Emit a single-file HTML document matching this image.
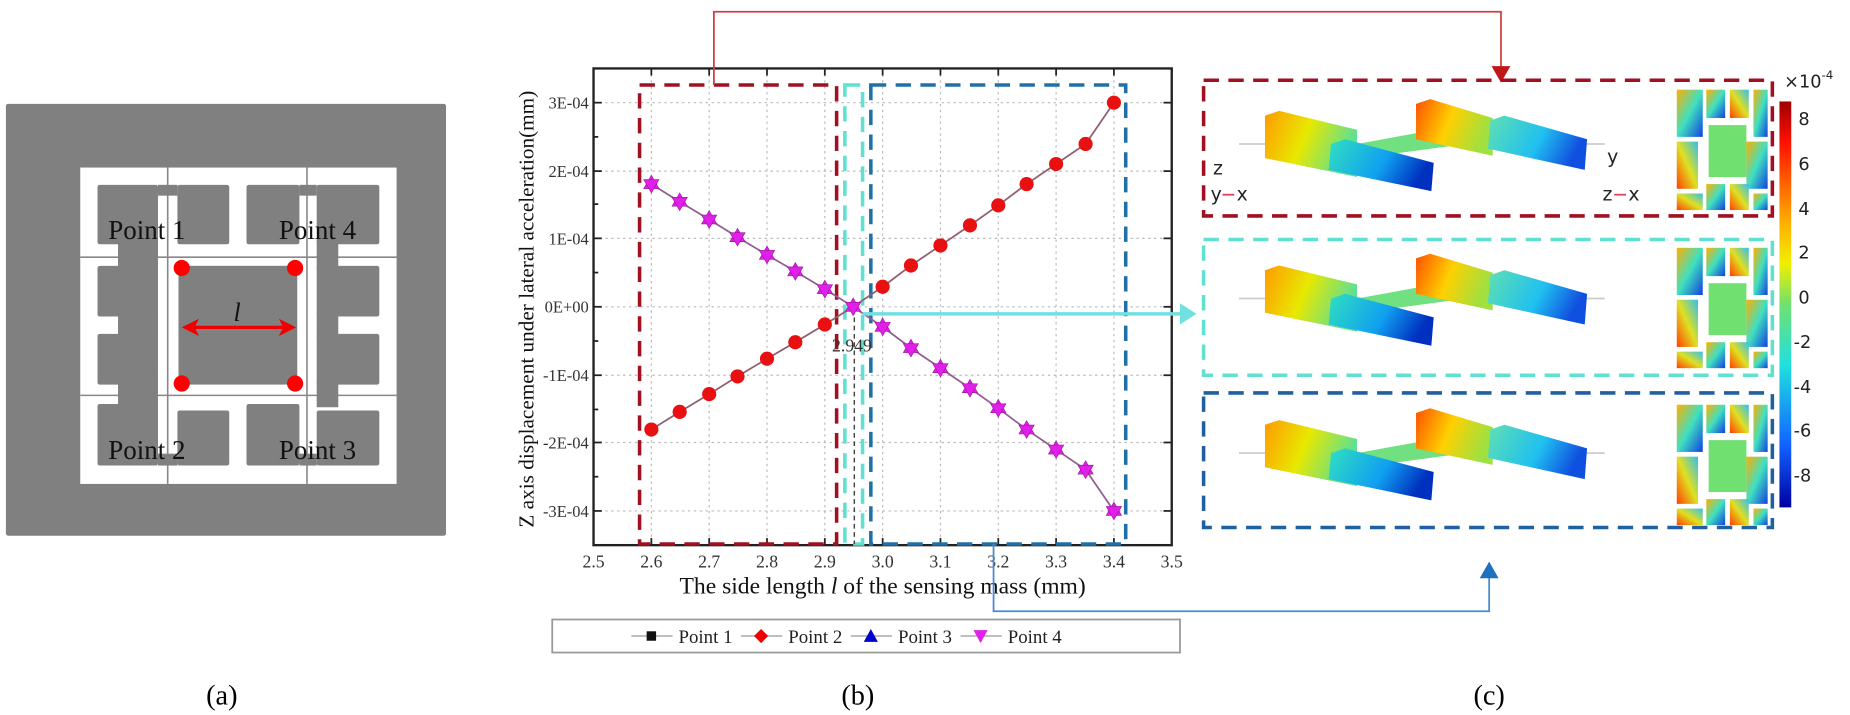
<!DOCTYPE html>
<html><head><meta charset="utf-8"><style>
html,body{margin:0;padding:0;background:#fff;}
svg{display:block;font-family:"Liberation Serif",serif;}
.s{font-family:"DejaVu Sans","Liberation Sans",sans-serif;}
</style></head><body>
<svg width="1850" height="715" viewBox="0 0 1850 715" xmlns="http://www.w3.org/2000/svg">
<defs>
<linearGradient id="jet" x1="0" y1="0" x2="0" y2="1">
<stop offset="0" stop-color="#a00000"/><stop offset="0.1" stop-color="#ff1000"/><stop offset="0.3" stop-color="#ffb000"/><stop offset="0.4" stop-color="#f0f000"/><stop offset="0.5" stop-color="#70e070"/><stop offset="0.65" stop-color="#20e0e0"/><stop offset="0.85" stop-color="#1060ff"/><stop offset="1" stop-color="#0000a0"/>
</linearGradient>
<linearGradient id="gA" x1="0" y1="0" x2="1" y2="0.3"><stop offset="0" stop-color="#ff9a00"/><stop offset="0.5" stop-color="#e8e800"/><stop offset="1" stop-color="#60e090"/></linearGradient>
<linearGradient id="gB" x1="0" y1="0" x2="1" y2="0.3"><stop offset="0" stop-color="#30e0c0"/><stop offset="0.6" stop-color="#10a0f0"/><stop offset="1" stop-color="#0030c0"/></linearGradient>
<linearGradient id="gC" x1="0" y1="0" x2="1" y2="0.3"><stop offset="0" stop-color="#ff5000"/><stop offset="0.5" stop-color="#ffd000"/><stop offset="1" stop-color="#a0e040"/></linearGradient>
<linearGradient id="gD" x1="0" y1="0" x2="1" y2="0.3"><stop offset="0" stop-color="#60e0b0"/><stop offset="0.6" stop-color="#20c0f0"/><stop offset="1" stop-color="#1050e0"/></linearGradient>
<linearGradient id="tb1" x1="0" y1="0" x2="1" y2="1"><stop offset="0" stop-color="#ffb000"/><stop offset="0.5" stop-color="#40e0c0"/><stop offset="1" stop-color="#1040e0"/></linearGradient>
<linearGradient id="tb2" x1="1" y1="0" x2="0" y2="1"><stop offset="0" stop-color="#30c0f0"/><stop offset="0.5" stop-color="#e0e020"/><stop offset="1" stop-color="#ff4000"/></linearGradient>
<g id="beams">
<line x1="1050" y1="122" x2="1360" y2="122" stroke="#ccc" stroke-width="1.5"/>
<polygon points="1150,122 1238,106 1272,118 1168,132" fill="#70e080"/>
<polygon points="1072,98 1084,94 1150,110 1150,150 1072,134" fill="url(#gA)"/>
<polygon points="1128,122 1140,118 1215,138 1213,162 1126,144" fill="url(#gB)"/>
<polygon points="1200,88 1212,84 1265,100 1265,132 1200,118" fill="url(#gC)"/>
<polygon points="1263,102 1275,98 1345,118 1343,144 1261,126" fill="url(#gD)"/>
</g>
<g id="top">
<rect x="1421" y="0" width="22" height="40" fill="url(#tb1)"/>
<rect x="1446" y="0" width="16" height="24" fill="url(#tb1)"/>
<rect x="1466" y="0" width="16" height="24" fill="url(#tb2)"/>
<rect x="1486" y="0" width="12" height="40" fill="url(#tb1)"/>
<rect x="1421" y="44" width="18" height="40" fill="url(#tb2)"/>
<rect x="1480" y="44" width="18" height="40" fill="url(#tb1)"/>
<rect x="1421" y="88" width="22" height="14" fill="url(#tb2)"/>
<rect x="1446" y="80" width="16" height="22" fill="url(#tb1)"/>
<rect x="1466" y="80" width="16" height="22" fill="url(#tb2)"/>
<rect x="1486" y="88" width="12" height="14" fill="url(#tb1)"/>
<rect x="1448" y="30" width="32" height="44" fill="#70e070"/>
</g>
<g id="hx" fill="#e020e8" stroke="#a010a0" stroke-width="0.5"><polygon points="0,-7.5 6.5,3.8 -6.5,3.8"/><polygon points="0,7.5 6.5,-3.8 -6.5,-3.8"/></g>
</defs>
<g transform="scale(1.18)">
<!-- Panel (a) -->
<rect x="5" y="88" width="373" height="366" fill="#808080" rx="2"/>
<g transform="translate(68,142) scale(0.915)">
<rect x="0" y="0" width="293" height="293" fill="#fff"/>
<g stroke="#888" stroke-width="1.5"><line x1="81" y1="0" x2="81" y2="293"/><line x1="210" y1="0" x2="210" y2="293"/><line x1="0" y1="83" x2="293" y2="83"/><line x1="0" y1="211" x2="293" y2="211"/></g>
<g fill="#808080">
<rect x="16" y="16" width="56" height="55" rx="2"/><rect x="90" y="16" width="48" height="55" rx="2"/><rect x="154" y="16" width="49" height="55" rx="2"/><rect x="219" y="16" width="58" height="55" rx="2"/>
<rect x="16" y="91" width="56" height="47" rx="2"/><rect x="16" y="154" width="56" height="47" rx="2"/>
<rect x="219" y="91" width="58" height="47" rx="2"/><rect x="219" y="154" width="58" height="47" rx="2"/>
<rect x="16" y="219" width="56" height="57" rx="2"/><rect x="90" y="225" width="48" height="51" rx="2"/><rect x="154" y="219" width="49" height="57" rx="2"/><rect x="219" y="225" width="58" height="51" rx="2"/>
<rect x="35" y="68" width="37" height="26"/><rect x="35" y="135" width="37" height="22"/><rect x="35" y="198" width="37" height="24"/>
<rect x="219" y="68" width="20" height="26"/><rect x="219" y="135" width="20" height="22"/><rect x="219" y="198" width="20" height="24"/>
<rect x="72" y="16" width="18" height="10"/><rect x="203" y="16" width="16" height="10"/><rect x="72" y="265" width="18" height="11"/><rect x="203" y="265" width="16" height="11"/>
<rect x="91" y="91" width="110" height="110"/>
</g>
<g font-size="25" fill="#111"><text x="26" y="66">Point 1</text><text x="184" y="66">Point 4</text><text x="26" y="270">Point 2</text><text x="184" y="270">Point 3</text></g>
<text x="142" y="142" font-size="24" font-style="italic" fill="#111">l</text>
<line x1="104" y1="148" x2="190" y2="148" stroke="#e00" stroke-width="3"/>
<polygon points="94,148 110,140 106,148 110,156" fill="#e00"/><polygon points="200,148 184,140 188,148 184,156" fill="#e00"/>
<g fill="#f00"><circle cx="94" cy="93" r="7.5"/><circle cx="199" cy="93" r="7.5"/><circle cx="94" cy="200" r="7.5"/><circle cx="199" cy="200" r="7.5"/></g>
</g>
<text x="188" y="597" font-size="24" text-anchor="middle">(a)</text>

<!-- Panel (b) -->
<g stroke="#bbb" stroke-width="1" stroke-dasharray="2,3">
<line x1="552" y1="58" x2="552" y2="462"/><line x1="601" y1="58" x2="601" y2="462"/><line x1="650" y1="58" x2="650" y2="462"/><line x1="699" y1="58" x2="699" y2="462"/><line x1="748" y1="58" x2="748" y2="462"/><line x1="797" y1="58" x2="797" y2="462"/><line x1="846" y1="58" x2="846" y2="462"/><line x1="895" y1="58" x2="895" y2="462"/><line x1="944" y1="58" x2="944" y2="462"/>
<line x1="503" y1="87" x2="993" y2="87"/><line x1="503" y1="145" x2="993" y2="145"/><line x1="503" y1="202" x2="993" y2="202"/><line x1="503" y1="260" x2="993" y2="260"/><line x1="503" y1="318" x2="993" y2="318"/><line x1="503" y1="375" x2="993" y2="375"/><line x1="503" y1="433" x2="993" y2="433"/>
</g>
<rect x="503" y="58" width="490" height="404" fill="none" stroke="#222" stroke-width="2"/>
<g stroke="#222" stroke-width="1.5">
<line x1="552" y1="462" x2="552" y2="456"/><line x1="601" y1="462" x2="601" y2="456"/><line x1="650" y1="462" x2="650" y2="456"/><line x1="699" y1="462" x2="699" y2="456"/><line x1="748" y1="462" x2="748" y2="456"/><line x1="797" y1="462" x2="797" y2="456"/><line x1="846" y1="462" x2="846" y2="456"/><line x1="895" y1="462" x2="895" y2="456"/><line x1="944" y1="462" x2="944" y2="456"/>
<line x1="552" y1="58" x2="552" y2="64"/><line x1="601" y1="58" x2="601" y2="64"/><line x1="650" y1="58" x2="650" y2="64"/><line x1="699" y1="58" x2="699" y2="64"/><line x1="748" y1="58" x2="748" y2="64"/><line x1="797" y1="58" x2="797" y2="64"/><line x1="846" y1="58" x2="846" y2="64"/><line x1="895" y1="58" x2="895" y2="64"/><line x1="944" y1="58" x2="944" y2="64"/>
<line x1="503" y1="87" x2="510" y2="87"/><line x1="503" y1="116" x2="507" y2="116"/><line x1="503" y1="145" x2="510" y2="145"/><line x1="503" y1="173" x2="507" y2="173"/><line x1="503" y1="202" x2="510" y2="202"/><line x1="503" y1="231" x2="507" y2="231"/><line x1="503" y1="260" x2="510" y2="260"/><line x1="503" y1="289" x2="507" y2="289"/><line x1="503" y1="318" x2="510" y2="318"/><line x1="503" y1="347" x2="507" y2="347"/><line x1="503" y1="375" x2="510" y2="375"/><line x1="503" y1="404" x2="507" y2="404"/><line x1="503" y1="433" x2="510" y2="433"/>
<line x1="993" y1="87" x2="986" y2="87"/><line x1="993" y1="145" x2="986" y2="145"/><line x1="993" y1="202" x2="986" y2="202"/><line x1="993" y1="260" x2="986" y2="260"/><line x1="993" y1="318" x2="986" y2="318"/><line x1="993" y1="375" x2="986" y2="375"/><line x1="993" y1="433" x2="986" y2="433"/>
</g>
<g font-size="14" text-anchor="end" fill="#333"><text x="499" y="92">3E-04</text><text x="499" y="150">2E-04</text><text x="499" y="207">1E-04</text><text x="499" y="265">0E+00</text><text x="499" y="323">-1E-04</text><text x="499" y="380">-2E-04</text><text x="499" y="438">-3E-04</text></g>
<g font-size="15" text-anchor="middle" fill="#333"><text x="503" y="481">2.5</text><text x="552" y="481">2.6</text><text x="601" y="481">2.7</text><text x="650" y="481">2.8</text><text x="699" y="481">2.9</text><text x="748" y="481">3.0</text><text x="797" y="481">3.1</text><text x="846" y="481">3.2</text><text x="895" y="481">3.3</text><text x="944" y="481">3.4</text><text x="993" y="481">3.5</text></g>
<text x="748" y="503" font-size="20" text-anchor="middle" fill="#111">The side length <tspan font-style="italic">l</tspan> of the sensing mass (mm)</text>
<text transform="translate(452,262) rotate(-90)" font-size="18" text-anchor="middle" fill="#111">Z axis displacement under lateral acceleration(mm)</text>
<!-- dashed boxes -->
<rect x="542" y="72" width="167" height="389" fill="none" stroke="#a01020" stroke-width="3" stroke-dasharray="13,8"/>
<rect x="716" y="72" width="15" height="389" fill="none" stroke="#60e0d0" stroke-width="3" stroke-dasharray="13,8"/>
<rect x="738" y="72" width="216" height="389" fill="none" stroke="#2070a8" stroke-width="3" stroke-dasharray="13,8"/>
<line x1="724" y1="262" x2="724" y2="461" stroke="#444" stroke-width="1.2" stroke-dasharray="4,3"/>
<text x="722" y="298" font-size="15" text-anchor="middle" fill="#333">2.949</text>
<!-- series -->
<polyline points="552,364 576,349 601,334 625,319 650,304 674,290 699,275 723,260 748,243 772,225 797,208 822,191 846,174 870,156 895,139 920,122 944,87" fill="none" stroke="#906070" stroke-width="1.5"/>
<polyline points="552,156 576,171 601,186 625,201 650,216 674,230 699,245 723,260 748,277 772,295 797,312 822,329 846,346 870,364 895,381 920,398 944,433" fill="none" stroke="#906090" stroke-width="1.5"/>
<g fill="#e81010">
<circle cx="552" cy="364" r="6"/><circle cx="576" cy="349" r="6"/><circle cx="601" cy="334" r="6"/><circle cx="625" cy="319" r="6"/><circle cx="650" cy="304" r="6"/><circle cx="674" cy="290" r="6"/><circle cx="699" cy="275" r="6"/><circle cx="748" cy="243" r="6"/><circle cx="772" cy="225" r="6"/><circle cx="797" cy="208" r="6"/><circle cx="822" cy="191" r="6"/><circle cx="846" cy="174" r="6"/><circle cx="870" cy="156" r="6"/><circle cx="895" cy="139" r="6"/><circle cx="920" cy="122" r="6"/><circle cx="944" cy="87" r="6"/>
</g>
<use href="#hx" x="552" y="156"/><use href="#hx" x="576" y="171"/><use href="#hx" x="601" y="186"/><use href="#hx" x="625" y="201"/><use href="#hx" x="650" y="216"/><use href="#hx" x="674" y="230"/><use href="#hx" x="699" y="245"/><use href="#hx" x="723" y="260"/><use href="#hx" x="748" y="277"/><use href="#hx" x="772" y="295"/><use href="#hx" x="797" y="312"/><use href="#hx" x="822" y="329"/><use href="#hx" x="846" y="346"/><use href="#hx" x="870" y="364"/><use href="#hx" x="895" y="381"/><use href="#hx" x="920" y="398"/><use href="#hx" x="944" y="433"/>
<!-- legend -->
<rect x="468" y="525" width="532" height="28" fill="#fff" stroke="#999" stroke-width="1.5"/>
<g font-size="16" fill="#222">
<line x1="535" y1="539" x2="570" y2="539" stroke="#999"/><rect x="548" y="535" width="8" height="8" fill="#111"/><text x="575" y="545">Point 1</text>
<line x1="628" y1="539" x2="663" y2="539" stroke="#999"/><polygon points="645,533 651,539 645,545 639,539" fill="#e00"/><text x="668" y="545">Point 2</text>
<line x1="721" y1="539" x2="756" y2="539" stroke="#999"/><polygon points="738,533 744,544 732,544" fill="#00c"/><text x="761" y="545">Point 3</text>
<line x1="814" y1="539" x2="849" y2="539" stroke="#999"/><polygon points="825,534 837,534 831,545" fill="#e020e8"/><text x="854" y="545">Point 4</text>
</g>
<text x="727" y="597" font-size="24" text-anchor="middle">(b)</text>

<!-- connectors -->
<polyline points="605,72 605,10 1272,10 1272,58" fill="none" stroke="#d04040" stroke-width="1.5"/>
<polygon points="1264,56 1280,56 1272,70" fill="#c01818"/>
<line x1="731" y1="266" x2="1000" y2="266" stroke="#70e0e0" stroke-width="3"/>
<polygon points="1000,257 1014,266 1000,275" fill="#70e0e0"/>
<polyline points="842,461 842,518 1262,518 1262,488" fill="none" stroke="#4a8ad0" stroke-width="1.5"/>
<polygon points="1254,490 1270,490 1262,476" fill="#2070c0"/>

<!-- Panel (c) -->
<rect x="1020" y="68" width="482" height="115" fill="none" stroke="#a01020" stroke-width="3" stroke-dasharray="13,8"/>
<rect x="1020" y="203" width="482" height="115" fill="none" stroke="#60e0d0" stroke-width="3" stroke-dasharray="13,8"/>
<rect x="1020" y="333" width="482" height="114" fill="none" stroke="#2060a0" stroke-width="3" stroke-dasharray="13,8"/>
<use href="#beams"/>
<use href="#beams" transform="translate(0,131)"/>
<use href="#beams" transform="translate(0,262)"/>
<use href="#top" transform="translate(0,76)"/>
<use href="#top" transform="translate(0,210)"/>
<use href="#top" transform="translate(0,343)"/>
<g class="s" font-size="16" fill="#222">
<text x="1028" y="148">z</text><text x="1026" y="170">y</text><line x1="1036" y1="165" x2="1046" y2="165" stroke="#e04060" stroke-width="1.5"/><text x="1048" y="170">x</text>
<text x="1362" y="138">y</text><text x="1358" y="170">z</text><line x1="1368" y1="165" x2="1378" y2="165" stroke="#e04060" stroke-width="1.5"/><text x="1380" y="170">x</text>
</g>
<rect x="1508" y="86" width="10" height="344" fill="url(#jet)"/>
<g class="s" font-size="15" fill="#222">
<text x="1512" y="74">×10<tspan font-size="10" dy="-7">-4</tspan></text>
<text x="1524" y="106">8</text><text x="1524" y="144">6</text><text x="1524" y="182">4</text><text x="1524" y="219">2</text><text x="1524" y="257">0</text><text x="1520" y="295">-2</text><text x="1520" y="333">-4</text><text x="1520" y="370">-6</text><text x="1520" y="408">-8</text>
</g>
<text x="1262" y="597" font-size="24" text-anchor="middle">(c)</text>
</g>
</svg>
</body></html>
